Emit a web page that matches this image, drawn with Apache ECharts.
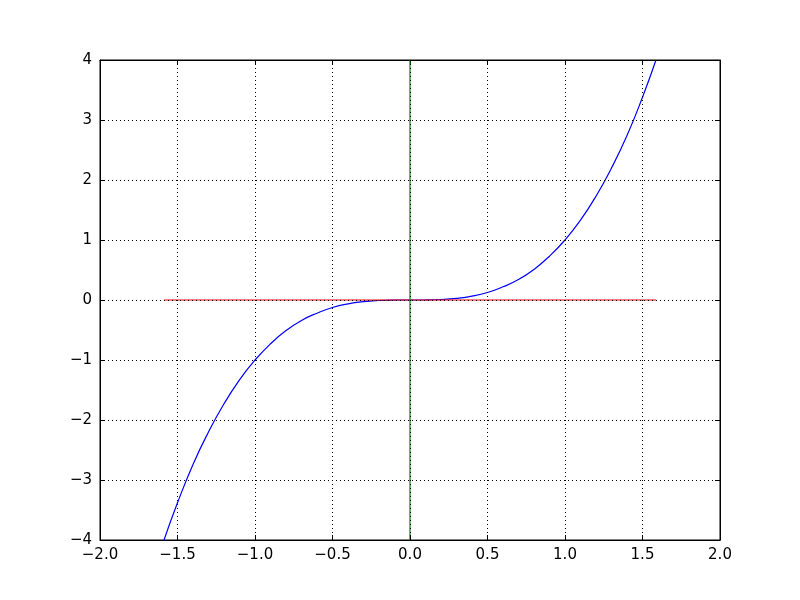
<!DOCTYPE html>
<html>
<head>
<meta charset="utf-8">
<script src="https://cdn.jsdelivr.net/npm/echarts@6/dist/echarts.min.js"></script>
<style>
  html, body { margin: 0; padding: 0; background: #fff; }
  #main { width: 800px; height: 600px; }
</style>
</head>
<body>
<div id="main"></div>
<script>
  // values
  var curveX = [-1.587, -1.5, -1.4, -1.3, -1.2, -1.1, -1.0, -0.9, -0.8, -0.7, -0.6, -0.5, -0.4, -0.3, -0.2, -0.1, 0,
                0.1, 0.2, 0.3, 0.4, 0.5, 0.6, 0.7, 0.8, 0.9, 1.0, 1.1, 1.2, 1.3, 1.4, 1.5, 1.587];
  var curveY = [-4.0, -3.38, -2.74, -2.2, -1.73, -1.33, -1.0, -0.73, -0.51, -0.34, -0.22, -0.125, -0.064, -0.027, -0.008, -0.001, 0,
                0.001, 0.008, 0.027, 0.064, 0.125, 0.22, 0.34, 0.51, 0.73, 1.0, 1.33, 1.73, 2.2, 2.74, 3.38, 4.0];
  var redX = [-1.587, 1.587];
  var redY = [0, 0];
  var greenX = [0, 0];
  var greenY = [-4, 4];

  function zip(xs, ys) {
    return xs.map(function (x, i) { return [x, ys[i]]; });
  }
  function minus(s) { return String(s).replace('-', '\u2212'); }

  var font = 'DejaVu Sans';
  var chart = echarts.init(document.getElementById('main'));
  var tickStyle = { inside: true, length: 5, lineStyle: { color: '#000' } };
  var grid = { type: [1, 3], color: '#000', width: 1 };

  var option = {
    animation: false,
    backgroundColor: '#fff',
    grid: { left: 100, right: 80, top: 60, bottom: 60, show: true, borderColor: '#000', borderWidth: 1 },
    xAxis: [{
      type: 'value', min: -2, max: 2, interval: 0.5, z: 5,
      axisLine: { onZero: false, lineStyle: { color: '#000' } },
      axisTick: tickStyle,
      splitLine: { show: true, lineStyle: grid },
      axisLabel: {
        margin: 8, color: '#000', fontFamily: font, fontSize: 15,
        formatter: function (v) { return minus(v.toFixed(1)); }
      }
    }, {
      type: 'value', position: 'top', min: -2, max: 2, interval: 0.5,
      axisLine: { show: true, onZero: false, lineStyle: { color: '#000' } },
      axisTick: tickStyle, axisLabel: { show: false }, splitLine: { show: false }
    }],
    yAxis: [{
      type: 'value', min: -4, max: 4, interval: 1, z: 5,
      axisLine: { show: true, onZero: false, lineStyle: { color: '#000' } },
      axisTick: tickStyle,
      splitLine: { show: true, lineStyle: grid },
      axisLabel: {
        margin: 8, color: '#000', fontFamily: font, fontSize: 15,
        formatter: function (v) { return minus(v); }
      }
    }, {
      type: 'value', position: 'right', min: -4, max: 4, interval: 1,
      axisLine: { show: true, onZero: false, lineStyle: { color: '#000' } },
      axisTick: tickStyle, axisLabel: { show: false }, splitLine: { show: false }
    }],
    series: [{
      type: 'line', data: zip(curveX, curveY), smooth: true, showSymbol: false,
      lineStyle: { color: '#0000ff', width: 1.2 }
    }, {
      type: 'line', data: zip(redX, redY), showSymbol: false,
      lineStyle: { color: '#ff0000', width: 1.2 }
    }, {
      type: 'line', data: zip(greenX, greenY), showSymbol: false,
      lineStyle: { color: '#008000', width: 1.2 }
    }]
  };
  chart.setOption(option);
</script>
</body>
</html>
